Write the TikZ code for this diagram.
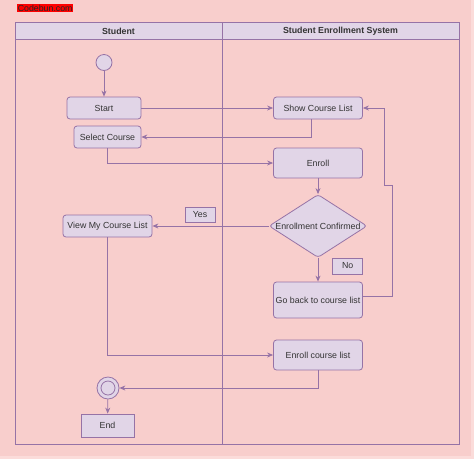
\documentclass[tikz,border=0pt]{standalone}
\usepackage{fontspec}
\setmainfont{Liberation Sans}
\usetikzlibrary{shapes.geometric,arrows.meta}
\definecolor{bg}{HTML}{F8CECC}
\definecolor{bglight}{HTML}{FBDCDA}
\definecolor{lav}{HTML}{E1D5E7}
\definecolor{pur}{HTML}{9673A6}
\definecolor{txt}{HTML}{333333}
\begin{document}
\begin{tikzpicture}[x=1pt,y=-1pt,
  every node/.style={text=txt, font=\fontsize{8.8}{10}\selectfont},
  act/.style 2 args={draw=pur, fill=lav, line width=0.8pt, rounded corners=3pt, minimum width=#1, minimum height=#2, inner sep=0pt},
  tag/.style 2 args={draw=pur, fill=lav, line width=0.8pt, minimum width=#1, minimum height=#2, inner sep=0pt},
  arr/.style={draw=pur, line width=0.8pt, -{Stealth[length=6pt,width=5pt]}},
  lane/.style={draw=pur, line width=0.8pt}
]
\useasboundingbox (0,0) rectangle (474,459);
\fill[bglight] (0,0) rectangle (474,459);
\fill[bg] (0,0) rectangle (471,456);

% title
\node[fill=red, inner sep=0.6pt, anchor=west, text=black!85] (brand) at (17,8) {Codebun.com};

% swimlanes
\fill[lav] (15,22) rectangle (459,39);
\draw[lane] (15,22) rectangle (459,444);
\draw[lane] (15,39) -- (459,39);
\draw[lane] (222,22) -- (222,444);
\node[font=\fontsize{8.8}{10}\selectfont\bfseries] (h1) at (118.5,31) {Student};
\node[font=\fontsize{8.8}{10}\selectfont\bfseries] (h2) at (340.5,31) {Student Enrollment System};

% nodes
\node[circle, draw=pur, fill=lav, line width=0.8pt, minimum size=16pt, inner sep=0pt] (init) at (104,62.5) {};
\node[act={74pt}{22pt}] (start) at (104,108) {Start};
\node[act={67pt}{22pt}] (sel) at (107.5,137) {Select Course};
\node[act={89pt}{22pt}] (show) at (318,108) {Show Course List};
\node[act={89pt}{30pt}] (enroll) at (318,163) {Enroll};
\node[diamond, draw=pur, fill=lav, line width=0.8pt, rounded corners=3pt, minimum width=98pt, minimum height=63pt, inner sep=0pt] (dia) at (318,226) {};
\node (diatext) at (dia.center) {Enrollment Confirmed};
\node[act={89pt}{36pt}] (goback) at (318,300) {Go back to course list};
\node[tag={30pt}{16pt}] (no) at (347.7,266) {No};
\node[act={89pt}{30pt}] (ecl) at (318,355) {Enroll course list};
\node[act={89pt}{22pt}] (view) at (107.5,226) {View My Course List};
\node[tag={30pt}{15pt}] (yes) at (200,214.5) {Yes};
\node[circle, draw=pur, fill=lav, line width=0.8pt, minimum size=22pt, inner sep=0pt] (final) at (108,388) {};
\node[circle, draw=pur, fill=lav, line width=0.8pt, minimum size=14pt, inner sep=0pt] (finalin) at (final.center) {};
\node[tag={53pt}{23pt}] (end) at (107.5,425.5) {End};

% connectors
\coordinate (r1) at (392,296);
\coordinate (r2) at (392,185);
\coordinate (r3) at (384,185);
\coordinate (r4) at (384,108);
\draw[arr] (init) -- (start);
\draw[arr] (start) -- (show);
\draw[arr] ([xshift=-7pt]show.south) |- (sel.east);
\draw[arr] (sel.south) |- (enroll.west);
\draw[arr] (enroll) -- (dia.north);
\draw[arr] (dia.west) -- (view.east);
\draw[arr] (dia.south) -- (goback.north);
\draw[arr] ([yshift=4pt]goback.east) -- (r1) -- (r2) -- (r3) -- (r4) -- (show.east);
\draw[arr] (view.south) |- (ecl.west);
\draw[arr] (ecl.south) |- (final.east);
\draw[arr] (final) -- (end);
\end{tikzpicture}
\end{document}
